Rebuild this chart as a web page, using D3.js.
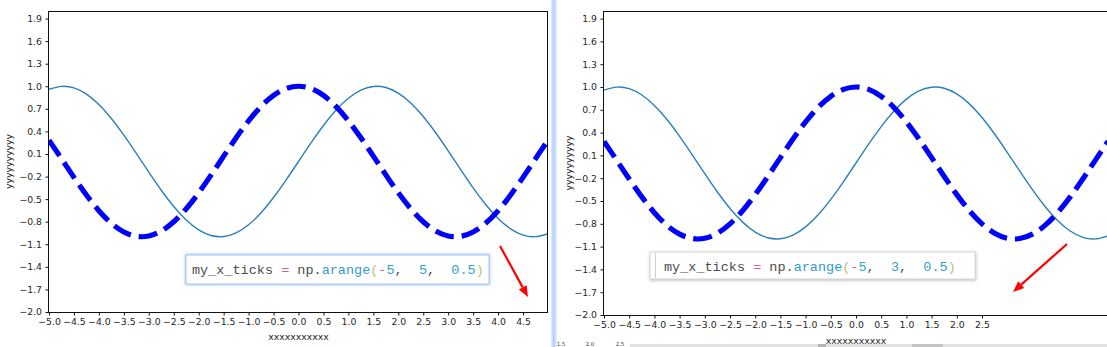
<!DOCTYPE html>
<html>
<head>
<meta charset="utf-8">
<script src="https://cdn.jsdelivr.net/npm/d3@7/dist/d3.min.js"></script>
<style>
  html, body { margin: 0; padding: 0; background: #fff; }
  svg { display: block; }
  .tick text { font-family: "DejaVu Sans", sans-serif; font-size: 9.3px; fill: #262626; }
  .axlabel { font-family: "DejaVu Sans", sans-serif; font-size: 9.3px; fill: #262626; }
  .stray { font-family: "DejaVu Sans", sans-serif; font-size: 5.5px; fill: #444; }
  .code { font-family: "Liberation Mono", "DejaVu Sans Mono", monospace; font-size: 13.5px; }
</style>
</head>
<body>
<svg id="chart" width="1107" height="347"></svg>
<script>
// Sample positions along x
const xs = [-5, -4.75, -4.5, -4.25, -4, -3.75, -3.5, -3.25, -3, -2.75, -2.5, -2.25, -2, -1.75, -1.5, -1.25, -1, -0.75, -0.5, -0.25,
  0, 0.25, 0.5, 0.75, 1, 1.25, 1.5, 1.75, 2, 2.25, 2.5, 2.75, 3, 3.25, 3.5, 3.75, 4, 4.25, 4.5, 4.75, 5];

// Thin solid curve
const sinValues = [0.959, 0.999, 0.978, 0.895, 0.757, 0.572, 0.351, 0.108, -0.141, -0.382, -0.598, -0.778, -0.909, -0.984, -0.997, -0.949, -0.841, -0.682, -0.479, -0.247,
  0, 0.247, 0.479, 0.682, 0.841, 0.949, 0.997, 0.984, 0.909, 0.778, 0.598, 0.382, 0.141, -0.108, -0.351, -0.572, -0.757, -0.895, -0.978, -0.999, -0.959];

// Thick dashed curve
const cosValues = [0.284, 0.038, -0.211, -0.446, -0.654, -0.821, -0.936, -0.994, -0.990, -0.924, -0.801, -0.628, -0.416, -0.178, 0.071, 0.315, 0.540, 0.732, 0.878, 0.969,
  1, 0.969, 0.878, 0.732, 0.540, 0.315, 0.071, -0.178, -0.416, -0.628, -0.801, -0.924, -0.990, -0.994, -0.936, -0.821, -0.654, -0.446, -0.211, 0.038, 0.284];

const yTicks = [-2.0, -1.7, -1.4, -1.1, -0.8, -0.5, -0.2, 0.1, 0.4, 0.7, 1.0, 1.3, 1.6, 1.9];
const xTicksLeft = [-5, -4.5, -4, -3.5, -3, -2.5, -2, -1.5, -1, -0.5, 0, 0.5, 1, 1.5, 2, 2.5, 3, 3.5, 4, 4.5];
const xTicksRight = [-5, -4.5, -4, -3.5, -3, -2.5, -2, -1.5, -1, -0.5, 0, 0.5, 1, 1.5, 2, 2.5];
const strayLabels = ["1.5", "2.0", "2.5"];

const xLabel = "xxxxxxxxxxx";
const yLabel = "yyyyyyyyyy";

const svg = d3.select("#chart");
const fmt = d3.format(".1f");

const defs = svg.append("defs");
const blueGlow = defs.append("filter").attr("id", "blueGlow").attr("x", "-10%").attr("y", "-40%").attr("width", "120%").attr("height", "180%");
blueGlow.append("feDropShadow").attr("dx", 0).attr("dy", 0).attr("stdDeviation", 1.8).attr("flood-color", "#6fa6f0").attr("flood-opacity", 1);
const greyShadow = defs.append("filter").attr("id", "greyShadow").attr("x", "-10%").attr("y", "-40%").attr("width", "120%").attr("height", "180%");
greyShadow.append("feDropShadow").attr("dx", 0.5).attr("dy", 1).attr("stdDeviation", 1.4).attr("flood-color", "#999").attr("flood-opacity", 0.7);

const sepGrad = defs.append("linearGradient").attr("id", "sepGrad").attr("x1", "0").attr("x2", "1").attr("y1", "0").attr("y2", "0");
sepGrad.append("stop").attr("offset", "0%").attr("stop-color", "#e4eefd");
sepGrad.append("stop").attr("offset", "45%").attr("stop-color", "#b3cff8");
sepGrad.append("stop").attr("offset", "100%").attr("stop-color", "#e8f1fe");

function drawPanel(cfg) {
  const g = svg.append("g");
  const x = d3.scaleLinear().domain([-5, 5]).range([cfg.left, cfg.right]);
  const y = d3.scaleLinear().domain([-2, 2]).range([cfg.bottom, cfg.top]);

  const clipId = "clip" + cfg.id;
  defs.append("clipPath").attr("id", clipId)
    .append("rect").attr("x", cfg.left).attr("y", cfg.top)
    .attr("width", cfg.right - cfg.left).attr("height", cfg.bottom - cfg.top);

  const line = d3.line().x((d, i) => x(xs[i])).curve(d3.curveNatural);

  const plot = g.append("g").attr("clip-path", `url(#${clipId})`);
  plot.append("path")
    .attr("d", line.y(d => y(d))(sinValues))
    .attr("fill", "none").attr("stroke", "#2a80bd").attr("stroke-width", 1.4);
  plot.append("path")
    .attr("d", line.y(d => y(d))(cosValues))
    .attr("fill", "none").attr("stroke", "#0000ff").attr("stroke-width", 5.2)
    .attr("stroke-dasharray", "19,8");

  // frame
  g.append("line").attr("x1", cfg.left).attr("x2", cfg.right).attr("y1", cfg.top + 0.5).attr("y2", cfg.top + 0.5)
    .attr("stroke", "#111").attr("stroke-width", 1);
  g.append("line").attr("x1", cfg.right - 0.5).attr("x2", cfg.right - 0.5).attr("y1", cfg.top).attr("y2", cfg.bottom)
    .attr("stroke", "#111").attr("stroke-width", 1);

  const xAxis = d3.axisBottom(x).tickValues(cfg.xTicks).tickFormat(fmt).tickSize(3.5).tickPadding(2.5);
  const gx = g.append("g").attr("transform", `translate(0,${cfg.bottom})`).call(xAxis);
  gx.select(".domain").attr("d", `M${cfg.left},0.5H${cfg.right}`).attr("stroke", "#111");
  gx.selectAll(".tick line").attr("stroke", "#111");

  const yAxis = d3.axisLeft(y).tickValues(yTicks).tickFormat(fmt).tickSize(3.5).tickPadding(3.5);
  const gy = g.append("g").attr("transform", `translate(${cfg.left},0)`).call(yAxis);
  gy.select(".domain").attr("d", `M-0.5,${cfg.top}V${cfg.bottom}`).attr("stroke", "#111");
  gy.selectAll(".tick line").attr("stroke", "#111");

  g.append("text").attr("class", "axlabel")
    .attr("x", (cfg.left + cfg.right) / 2).attr("y", cfg.xLabelY)
    .attr("text-anchor", "middle").text(xLabel);
  g.append("text").attr("class", "axlabel")
    .attr("transform", `translate(${cfg.yLabelX},${(cfg.top + cfg.bottom) / 2}) rotate(-90)`)
    .attr("text-anchor", "middle").attr("dominant-baseline", "central").text(yLabel);
}

drawPanel({ id: "L", left: 49, right: 548, top: 11, bottom: 312, xTicks: xTicksLeft, xLabelY: 340, yLabelX: 8.5 });
drawPanel({ id: "R", left: 604, right: 1108, top: 11, bottom: 315, xTicks: xTicksRight, xLabelY: 343.5, yLabelX: 568 });

// stray labels and scrollbar strip along the lower edge
svg.append("rect").attr("x", 630).attr("y", 344).attr("width", 477).attr("height", 3).attr("fill", "#e2e2e2");
svg.append("rect").attr("x", 818).attr("y", 344).attr("width", 8).attr("height", 3).attr("fill", "#b5b5b5");
svg.append("rect").attr("x", 912).attr("y", 344).attr("width", 31).attr("height", 3).attr("fill", "#c4c4c4");
const strayX = [561, 590, 620];
svg.selectAll("text.stray").data(strayLabels).join("text").attr("class", "stray")
  .attr("x", (d, i) => strayX[i]).attr("y", 346.3).attr("text-anchor", "middle").text(d => d);

// divider between the two windows
svg.append("rect").attr("x", 551).attr("y", 0).attr("width", 6).attr("height", 347).attr("fill", "url(#sepGrad)");

// code snippets
const tokenColors = { plain: "#4d4d4d", op: "#d0649a", fn: "#2f9bd0", paren: "#b9c27c", num: "#2fa3c8" };
function codeBox(bx, by, bw, bh, tx, ty, tokens, style) {
  const g = svg.append("g");
  g.append("rect").attr("x", bx).attr("y", by).attr("width", bw).attr("height", bh)
    .attr("fill", "#fff")
    .attr("stroke", style === "blue" ? "#a9c8f3" : "#d8d8d8").attr("stroke-width", 1)
    .attr("filter", style === "blue" ? "url(#blueGlow)" : "url(#greyShadow)");
  if (style === "grey") {
    g.append("line").attr("x1", bx + 5.5).attr("x2", bx + 5.5).attr("y1", by + 1).attr("y2", by + bh - 1)
      .attr("stroke", "#d0d0d0").attr("stroke-width", 1);
  }
  const t = g.append("text").attr("class", "code").attr("x", tx).attr("y", ty).attr("xml:space", "preserve");
  tokens.forEach(([s, k]) => t.append("tspan").attr("fill", tokenColors[k]).text(s));
}

const snippetLeft = [["my_x_ticks ", "plain"], ["=", "op"], [" np.", "plain"], ["arange", "fn"], ["(", "paren"], ["-", "op"],
  ["5", "num"], [",  ", "plain"], ["5", "num"], [",  ", "plain"], ["0.5", "num"], [")", "paren"]];
const snippetRight = [["my_x_ticks ", "plain"], ["=", "op"], [" np.", "plain"], ["arange", "fn"], ["(", "paren"], ["-", "op"],
  ["5", "num"], [",  ", "plain"], ["3", "num"], [",  ", "plain"], ["0.5", "num"], [")", "paren"]];

codeBox(186, 255, 303, 29, 192, 273.5, snippetLeft, "blue");
codeBox(650, 252, 325, 27, 664, 270.5, snippetRight, "grey");

// red arrows
function arrow(x1, y1, x2, y2) {
  const ang = Math.atan2(y2 - y1, x2 - x1);
  const L = 11, W = 4.5;
  const bx = x2 - L * Math.cos(ang), by = y2 - L * Math.sin(ang);
  svg.append("line").attr("x1", x1).attr("y1", y1).attr("x2", bx).attr("y2", by)
    .attr("stroke", "#ff0000").attr("stroke-width", 2.2);
  const px = -Math.sin(ang) * W, py = Math.cos(ang) * W;
  svg.append("path")
    .attr("d", `M${x2},${y2}L${bx + px},${by + py}L${bx - px},${by - py}Z`)
    .attr("fill", "#ff0000");
}
arrow(500, 246, 528, 297);
arrow(1067, 244, 1013, 292);
</script>
</body>
</html>
